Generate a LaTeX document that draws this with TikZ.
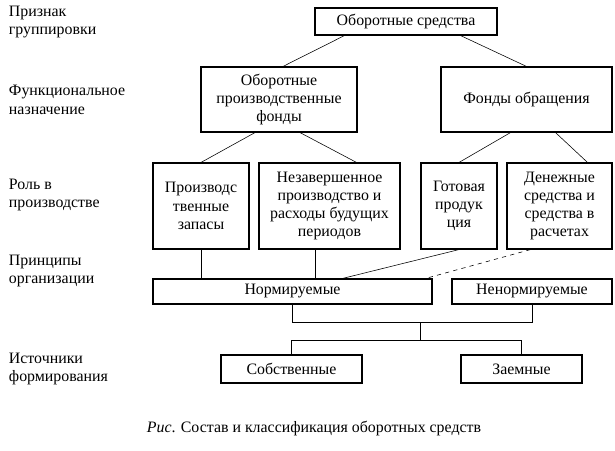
\documentclass[tikz,border=0pt]{standalone}
\usepackage{fontspec}
\setmainfont{Liberation Serif}
\usetikzlibrary{positioning,calc}
\begin{document}
\begin{tikzpicture}[x=0.025cm,y=-0.025cm,
    every node/.style={font=\fontsize{11.3}{13}\selectfont},
    box/.style={draw,thick,align=center,inner sep=0pt},
    lab/.style={anchor=west,align=left}]
    \useasboundingbox (0,0) rectangle (615,450);
    % boxes
    \node[box,minimum width=182*0.025cm,minimum height=27*0.025cm] (os) at (406,21.5) {Оборотные средства};
    \node[box,minimum width=156*0.025cm,minimum height=65*0.025cm] (opf) at (279,99.5) {Оборотные\\производственные\\фонды};
    \node[box,minimum width=171*0.025cm,minimum height=65*0.025cm] (fo) at (526.5,99.5) {Фонды обращения};
    \node[box,minimum width=96*0.025cm,minimum height=86*0.025cm] (pz) at (201,206) {Производс\\твенные\\запасы};
    \node[box,minimum width=141*0.025cm,minimum height=86*0.025cm] (np) at (329.5,206) {Незавершенное\\производство и\\расходы будущих\\периодов};
    \node[box,minimum width=76*0.025cm,minimum height=86*0.025cm] (gp) at (459,206) {Готовая\\продук\\ция};
    \node[box,minimum width=105*0.025cm,minimum height=86*0.025cm] (ds) at (559.5,206) {Денежные\\средства и\\средства в\\расчетах};
    \node[box,minimum width=279*0.025cm,minimum height=25*0.025cm] (nr) at (292.5,291.5) {Нормируемые};
    \node[box,minimum width=160*0.025cm,minimum height=25*0.025cm] (nn) at (532,291.5) {Ненормируемые};
    \node[box,minimum width=141*0.025cm,minimum height=28*0.025cm] (sb) at (291.5,369) {Собственные};
    \node[box,minimum width=121*0.025cm,minimum height=28*0.025cm] (zm) at (521.5,369) {Заемные};
    % left labels
    \node[lab] (l1) at (4,22) {Признак\\группировки};
    \node[lab] (l2) at (4,100) {Функциональное\\назначение};
    \node[lab] (l3) at (4,195) {Роль в\\производстве};
    \node[lab] (l4) at (4,271) {Принципы\\организации};
    \node[lab] (l5) at (4,369) {Источники\\формирования};
    % connectors
    \draw ($(os.south west)+(30,0)$) -- ($(opf.north)+(4,0)$);
    \draw ($(os.south east)+(-37,0)$) -- (fo.north);
    \draw ($(opf.south)+(-24,0)$) -- (pz.north);
    \draw ($(opf.south)+(21,0)$) -- ($(np.north)+(27,0)$);
    \draw ($(fo.south)+(-16,0)$) -- (gp.north);
    \draw ($(fo.south)+(29,0)$) -- ($(ds.north)+(28,0)$);
    \draw (pz.south) -- (pz.south |- nr.north);
    \draw ($(np.south)+(-14,0)$) -- ($(np.south |- nr.north)+(-14,0)$);
    \draw (gp.south) -- ($(nr.north)+(50,0)$);
    \draw[dashed] ($(ds.south)+(-29,0)$) -- ($(nr.north)+(133,0)$);
    \draw (nr.south) -- ++(0,18) coordinate (b1) -| (nn.south);
    \draw ($(b1)+(127.5,0)$) coordinate (b2) -- ++(0,18) coordinate (b3);
    \draw (sb.north) |- (b3) -| (zm.north);
    % caption
    \node (cap) at (314,428) {\textit{Рис}. Состав и классификация оборотных средств};
\end{tikzpicture}
\end{document}
